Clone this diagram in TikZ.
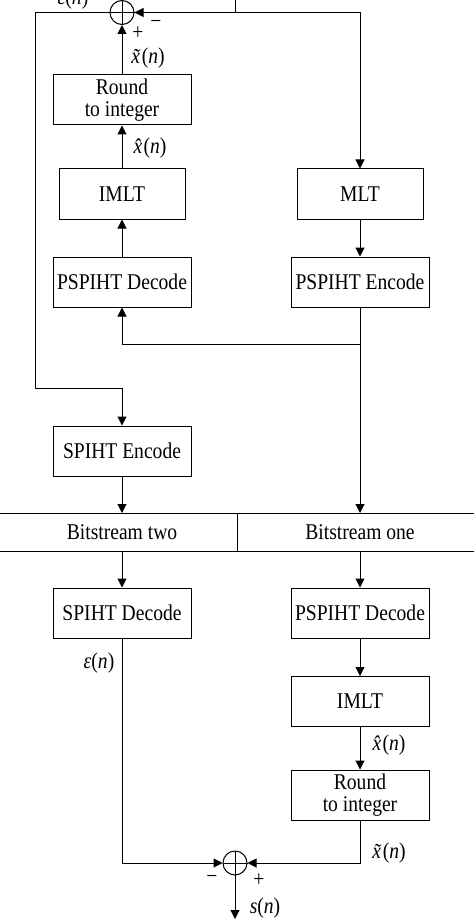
\documentclass[tikz,border=0pt]{standalone}
\usepackage{fontspec}
\setmainfont{Liberation Serif}[FakeStretch=0.87]
\usetikzlibrary{arrows.meta}
\newcommand{\lbl}[1]{\textit{#1}}
\newcommand{\xtil}{\textit{x̃}\kern-0.27em}
\newcommand{\xhat}{\textit{x̂}\kern-0.27em}
\begin{document}
\begin{tikzpicture}[x=1pt,y=-1pt,
  every node/.style={font=\fontsize{22.5}{22}\selectfont},
  box/.style={draw, line width=1pt, minimum height=50pt, minimum width=138pt, align=center, inner sep=0pt},
  sbox/.style={box, minimum width=126pt},
  sumnode/.style={draw, circle, line width=1pt, minimum size=24pt, inner sep=0pt},
  line/.style={line width=1pt},
  arr/.style={line width=1pt, -{Triangle[length=9pt,width=9pt]}},
  lab/.style={inner sep=0pt}
]
\useasboundingbox (0,0) rectangle (474,920);
\clip (0,0) rectangle (474,920);

% ---- encoder ----
\node[sumnode] (s1) at (122,12.5) {};
\draw[line] (s1.north) -- (s1.south) (s1.west) -- (s1.east);
\node[box]  (round1) at (122,100) {Round\\to integer};
\node[sbox] (imlt1)  at (122,194) {IMLT};
\node[box]  (pd1)    at (122,282) {PSPIHT Decode};
\node[sbox] (mlt)    at (360,194) {MLT};
\node[box]  (pe)     at (360,282) {PSPIHT Encode};
\node[box]  (spe)    at (122,451) {SPIHT Encode};

\coordinate (in) at (235,-1);
\coordinate (j1) at (235,12.5);
\coordinate (c1) at (35,388);
\coordinate (j2) at (360,344);

\draw[line] (in) -- (j1);
\draw[arr] (j1) -- (s1.east);
\draw[arr] (j1) -| (mlt.north);
\draw[arr] (round1.north) -- (s1.south);
\draw[arr] (imlt1.north) -- (round1.south);
\draw[arr] (pd1.north) -- (imlt1.south);
\draw[arr] (mlt.south) -- (pe.north);
\draw[line] (pe.south) -- (j2);
\draw[arr] (j2) -| (pd1.south);
\draw[arr] (s1.west) -| (c1) -| (spe.north);

% ---- bitstream bar ----
\coordinate (bl) at (0,513);
\coordinate (br) at (474,513);
\coordinate (bl2) at (0,551);
\coordinate (br2) at (474,551);
\draw[line] (bl) -- (br) (bl2) -- (br2);
\draw[line] (237,513) -- (237,551);
\node (bs2) at (122,532) {Bitstream two};
\node (bs1) at (360,532) {Bitstream one};
\draw[arr] (spe.south) -- (122,513);
\draw[arr] (j2) -- (360,513);

% ---- decoder ----
\node[box] (sd)     at (122,613) {SPIHT Decode};
\node[box] (pd2)    at (360,613) {PSPIHT Decode};
\node[box] (imlt2)  at (360,701.5) {IMLT};
\node[box] (round2) at (360,795) {Round\\to integer};
\node[sumnode] (s2) at (235,863) {};
\draw[line] (s2.north) -- (s2.south) (s2.west) -- (s2.east);
\coordinate (out) at (235,919);

\draw[arr] (122,551) -- (sd.north);
\draw[arr] (360,551) -- (pd2.north);
\draw[arr] (pd2.south) -- (imlt2.north);
\draw[arr] (imlt2.south) -- (round2.north);
\draw[arr] (sd.south) |- (s2.west);
\draw[arr] (round2.south) |- (s2.east);
\draw[arr] (s2.south) -- (out);

% ---- labels ----
\node[lab, anchor=base] (le1) at (73,5) {\lbl{ε}(\lbl{n})};
\node[lab] (m1) at (156,24) {−};
\node[lab] (p1) at (138,33) {+};
\node[lab] (lt1) at (148,58) {\xtil(\lbl{n})};
\node[lab] (lh1) at (150,148) {\xhat(\lbl{n})};
\node[lab] (le2) at (99,663) {\lbl{ε}(\lbl{n})};
\node[lab] (lh2) at (389,745) {\xhat(\lbl{n})};
\node[lab] (lt2) at (389,853) {\xtil(\lbl{n})};
\node[lab] (m2) at (212,879) {−};
\node[lab] (p2) at (259,880) {+};
\node[lab] (ls) at (265,908) {\lbl{s}(\lbl{n})};
\end{tikzpicture}
\end{document}
